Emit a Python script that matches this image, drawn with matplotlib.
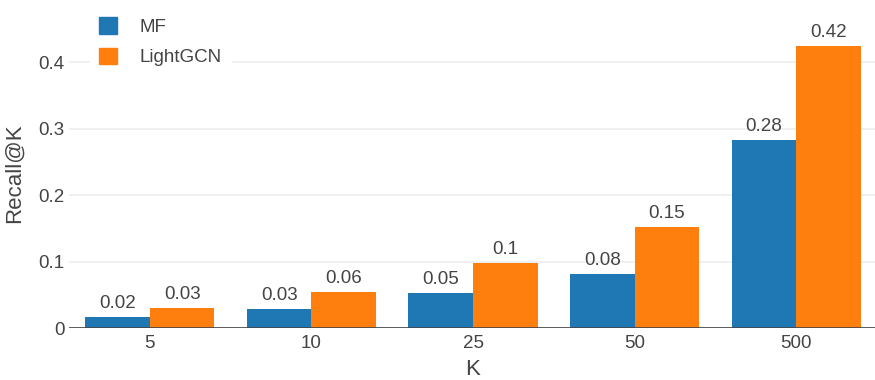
import numpy as np
import matplotlib.pyplot as plt
from matplotlib.patches import Patch

plt.rcParams['font.family'] = ['Liberation Sans', 'DejaVu Sans']

# 数据
k_labels = ['5', '10', '25', '50', '500']
mf = [0.0176, 0.029, 0.0526, 0.0817, 0.2835]
lightgcn = [0.030, 0.0552, 0.0987, 0.152, 0.4245]

blue = '#1f77b4'
orange = '#ff7f0e'
txt = '#444444'
fs = 13.5

fig = plt.figure(figsize=(8.75, 3.8), dpi=100)
ax = fig.add_axes([69/875, 1 - 328.3/380, 808/875, (328.3 - 18)/380])

x = np.arange(len(k_labels))
w = 0.4
b1 = ax.bar(x - w/2, mf, w, color=blue, zorder=3)
b2 = ax.bar(x + w/2, lightgcn, w, color=orange, zorder=3)

for bars, vals in [(b1, mf), (b2, lightgcn)]:
    for b, v in zip(bars, vals):
        ax.annotate(f"{round(v, 2):g}", (b.get_x() + b.get_width()/2, v),
                    xytext=(0, 3.5), textcoords='offset points',
                    ha='center', va='bottom', fontsize=fs, color=txt)

ax.set_xlim(-0.5, 4.5)
ax.set_ylim(0, (328.3 - 18) / 665)
ax.set_yticks([0, 0.1, 0.2, 0.3, 0.4])
ax.set_yticklabels(['0', '0.1', '0.2', '0.3', '0.4'])
ax.set_xticks(x)
ax.set_xticklabels(k_labels)
ax.tick_params(length=0, labelsize=fs, colors=txt, pad=5)
ax.tick_params(axis='y', pad=3)

for s in ax.spines.values():
    s.set_visible(False)
ax.grid(axis='y', color='#eeeeee', linewidth=1.2, zorder=0)
ax.axhline(0, color='#444444', linewidth=1.2, zorder=4)

ax.set_xlabel('K', fontsize=16, color=txt, labelpad=5)
ax.set_ylabel('Recall@K', fontsize=16, color=txt, labelpad=10)

handles = [Patch(color=blue), Patch(color=orange)]
leg = fig.legend(handles, ['MF', 'LightGCN'], loc='upper left',
                 bbox_to_anchor=(90/875, 1 - 8/380), fontsize=fs,
                 handlelength=0.96, handleheight=0.96, handletextpad=1.2,
                 labelspacing=0.62, frameon=True, framealpha=1,
                 edgecolor='white', fancybox=False, borderpad=0.5,
                 borderaxespad=0)
for t in leg.get_texts():
    t.set_color(txt)

plt.savefig('out.png', dpi=100)
